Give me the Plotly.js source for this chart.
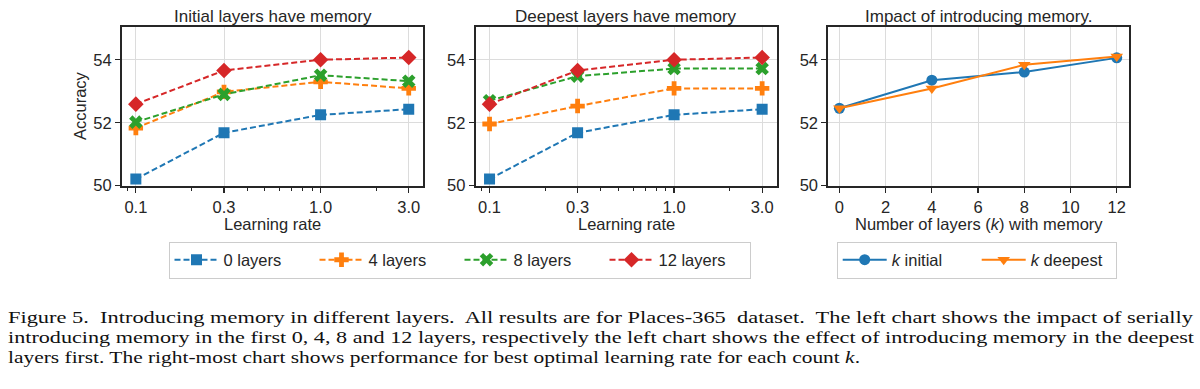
<!DOCTYPE html>
<html><head><meta charset="utf-8">
<script src="https://cdn.plot.ly/plotly-3.0.1.min.js"></script>
<style>html,body{margin:0;padding:0;background:#fff}#chart{width:1200px;height:389px}</style>
</head><body><div id="chart"></div>
<script>
// ---- data ----
const learningRates = [0.1, 0.3, 1.0, 3.0];
const lrTickText = ['0.1', '0.3', '1.0', '3.0'];
const lrMinorTicks = [0.09, 0.2, 0.4, 0.5, 0.6, 0.7, 0.8, 0.9, 2];
const seriesNames = ['0 layers', '4 layers', '8 layers', '12 layers'];
const initial0 = [50.21, 51.68, 52.25, 52.43];
const initial4 = [51.83, 52.98, 53.30, 53.09];
const initial8 = [52.02, 52.90, 53.51, 53.32];
const initial12 = [52.59, 53.66, 54.00, 54.07];
const deepest0 = [50.21, 51.68, 52.25, 52.43];
const deepest4 = [51.96, 52.53, 53.09, 53.09];
const deepest8 = [52.70, 53.48, 53.72, 53.72];
const deepest12 = [52.59, 53.66, 54.00, 54.07];
const layerCounts = [0, 4, 8, 12];
const kInitial = [52.46, 53.35, 53.61, 54.06];
const kDeepest = [52.46, 53.09, 53.84, 54.10];
const kNames = ['<i>k</i> initial', '<i>k</i> deepest'];
const yTicks = [50, 52, 54];
const kTicks = [0, 2, 4, 6, 8, 10, 12];
const chartTitles = ['Initial layers have memory', 'Deepest layers have memory', 'Impact of introducing memory.'];
const xTitles = ['Learning rate', 'Learning rate', 'Number of layers (<i>k</i>) with memory'];
const yTitle = 'Accuracy';
const captionLines = [
  'Figure 5.  Introducing memory in different layers.  All results are for Places-365  dataset.  The left chart shows the impact of serially',
  'introducing memory in the first 0, 4, 8 and 12 layers, respectively the left chart shows the effect of introducing memory in the deepest',
  'layers first. The right-most chart shows performance for best optimal learning rate for each count <i>k</i>.'
];

// ---- styles ----
const colors = ['#1f77b4', '#ff7f0e', '#2ca02c', '#d62728'];
const symbols = ['square', 'cross', 'x', 'diamond'];
const sizes = [11, 12, 12, 12];
const W = 1200, H = 389;
const sans = '"Liberation Sans", Arial, Helvetica, sans-serif';
const serif = '"Liberation Serif", "Times New Roman", Times, serif';
const txt = '#262626';
const px = v => v / W;
const py = v => 1 - v / H;

const dom = [[122, 423.3], [475.7, 776.7], [828.3, 1129]];
const yDom = [py(185.7), py(26.7)];

const initialSets = [initial0, initial4, initial8, initial12];
const deepestSets = [deepest0, deepest4, deepest8, deepest12];

const data = [];
initialSets.forEach((ys, i) => data.push({
  x: learningRates, y: ys, name: seriesNames[i], xaxis: 'x', yaxis: 'y', legend: 'legend',
  mode: 'lines+markers', line: {color: colors[i], width: 2, dash: '6px,3px'},
  marker: {symbol: symbols[i], size: sizes[i], color: colors[i], line: {width: 0}}
}));
deepestSets.forEach((ys, i) => data.push({
  x: learningRates, y: ys, name: seriesNames[i], xaxis: 'x2', yaxis: 'y2', showlegend: false,
  mode: 'lines+markers', line: {color: colors[i], width: 2, dash: '6px,3px'},
  marker: {symbol: symbols[i], size: sizes[i], color: colors[i], line: {width: 0}}
}));
data.push({
  x: layerCounts, y: kInitial, name: kNames[0], xaxis: 'x3', yaxis: 'y3', legend: 'legend2',
  mode: 'lines+markers', line: {color: colors[0], width: 2},
  marker: {symbol: 'circle', size: 11, color: colors[0]}
});
data.push({
  x: layerCounts, y: kDeepest, name: kNames[1], xaxis: 'x3', yaxis: 'y3', legend: 'legend2',
  mode: 'lines+markers', line: {color: colors[1], width: 2},
  marker: {symbol: 'triangle-down', size: 11, color: colors[1]}
});

const axBase = {
  showline: true, mirror: true, linecolor: txt, linewidth: 2,
  ticks: 'outside', ticklen: 5, tickwidth: 1.2, tickcolor: txt,
  showgrid: true, gridcolor: '#dcdcdc', gridwidth: 1, zeroline: false,
  tickfont: {family: sans, size: 16.5, color: txt}, fixedrange: true, automargin: false
};
const logX = (d) => Object.assign({}, axBase, {
  type: 'log', domain: d, range: [-1.075, 0.556],
  tickmode: 'array', tickvals: learningRates, ticktext: lrTickText,
  minor: {tickmode: 'array', tickvals: lrMinorTicks, ticks: 'outside', ticklen: 3, tickwidth: 1, tickcolor: txt, showgrid: false}
});
const yAx = (anchor) => Object.assign({}, axBase, {
  domain: yDom, range: [50, 55.05], tickmode: 'array', tickvals: yTicks, anchor: anchor
});

const annFont = {family: sans, size: 17, color: txt};
const axFont = {family: sans, size: 16.5, color: txt};
const annotations = [];
dom.forEach((d, i) => {
  const cx = px((d[0] + d[1]) / 2);
  annotations.push({text: chartTitles[i], x: cx, y: py(16.5), xref: 'paper', yref: 'paper',
    showarrow: false, xanchor: 'center', yanchor: 'middle', font: annFont});
  annotations.push({text: xTitles[i], x: cx, y: py(224), xref: 'paper', yref: 'paper',
    showarrow: false, xanchor: 'center', yanchor: 'middle', font: axFont});
});
annotations.push({text: yTitle, x: px(80), y: py(106), xref: 'paper', yref: 'paper',
  showarrow: false, textangle: -90, xanchor: 'center', yanchor: 'middle', font: axFont});
const captionStart = annotations.length;
const captionY = [317.5, 337.5, 357];
captionLines.forEach((t, i) => annotations.push({
  text: t, x: px(6), y: py(captionY[i]), xref: 'paper', yref: 'paper', showarrow: false,
  xanchor: 'left', yanchor: 'middle', align: 'left',
  font: {family: serif, size: 17, color: '#111'}
}));

const legendBase = {
  orientation: 'h', xanchor: 'left', yanchor: 'top', bgcolor: '#ffffff',
  bordercolor: '#cccccc', borderwidth: 1, font: {family: sans, size: 16.5, color: txt},
  entrywidthmode: 'pixels', itemwidth: 44, itemclick: false, itemdoubleclick: false
};

const layout = {
  width: W, height: H, margin: {l: 0, r: 0, t: 0, b: 0},
  paper_bgcolor: '#ffffff', plot_bgcolor: '#ffffff', showlegend: true,
  xaxis: logX([px(dom[0][0]), px(dom[0][1])]),
  yaxis: yAx('x'),
  xaxis2: logX([px(dom[1][0]), px(dom[1][1])]),
  yaxis2: yAx('x2'),
  xaxis3: Object.assign({}, axBase, {domain: [px(dom[2][0]), px(dom[2][1])], range: [-0.48, 12.53],
    tickmode: 'array', tickvals: kTicks}),
  yaxis3: yAx('x3'),
  legend: Object.assign({}, legendBase, {x: px(168.5), y: py(241.5), entrywidth: 86}),
  legend2: Object.assign({}, legendBase, {x: px(836.7), y: py(241.5), entrywidth: 80}),
  annotations: annotations
};
layout.xaxis.anchor = 'y'; layout.xaxis2.anchor = 'y2'; layout.xaxis3.anchor = 'y3';

const captionWidths = [1185, 1186, 852];
Plotly.newPlot('chart', data, layout, {staticPlot: true, displayModeBar: false}).then(gd => {
  captionWidths.forEach((w, i) => {
    const t = gd.querySelector('g.annotation[data-index="' + (captionStart + i) + '"] text.annotation-text');
    if (t) {
      t.setAttribute('textLength', w);
      t.setAttribute('lengthAdjust', 'spacingAndGlyphs');
    }
  });
});
</script>
</body></html>
